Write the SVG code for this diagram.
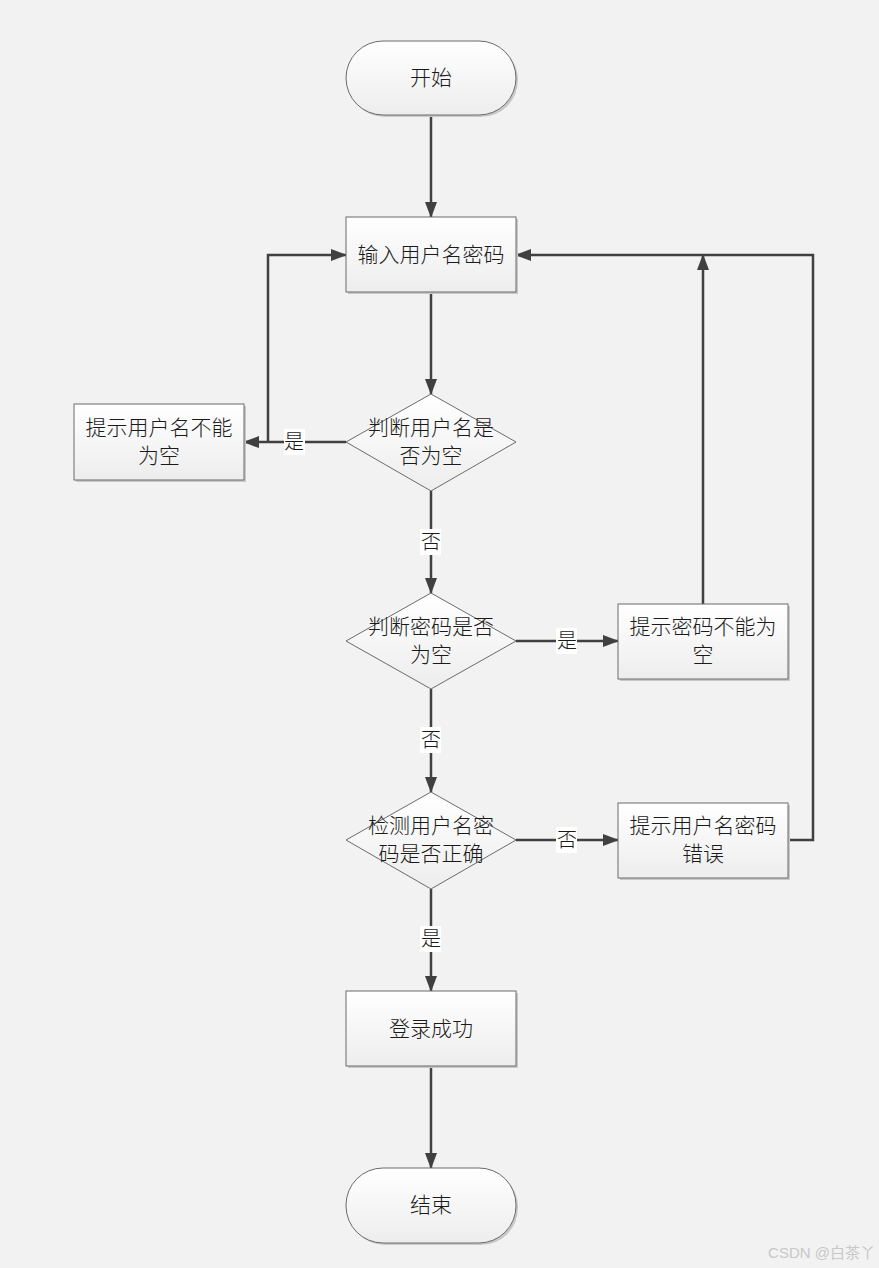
<svg xmlns="http://www.w3.org/2000/svg" width="879" height="1268" viewBox="0 0 879 1268">
<defs>
<linearGradient id="g" x1="0" y1="0" x2="0" y2="1">
<stop offset="0" stop-color="#ffffff"/>
<stop offset="1" stop-color="#ededed"/>
</linearGradient>
<marker id="ah" viewBox="0 0 16 12" refX="15" refY="6" markerWidth="16" markerHeight="12" markerUnits="userSpaceOnUse" orient="auto">
<path d="M0,0 L16,6 L0,12 Z" fill="#404040"/>
</marker>
</defs>
<style>
.n{fill:url(#g);stroke:#6b6b6b;stroke-width:1}
.sh{fill:#c8c8c8}
.t{font-family:"Noto Sans CJK SC","Noto Sans CJK JP",sans-serif;font-size:21px;font-weight:300;fill:#1a1a1a;text-anchor:middle}
.c{fill:none;stroke:#404040;stroke-width:2.5}
.lb{fill:#ffffff}
.lt{font-family:"Noto Sans CJK SC",sans-serif;font-size:20px;font-weight:300;fill:#1a1a1a;text-anchor:middle}
</style>
<rect width="879" height="1268" fill="#f2f2f2"/>

<g id="connectors">
<path class="c" d="M431,115 V217" marker-end="url(#ah)"/>
<path class="c" d="M431,292 V394" marker-end="url(#ah)"/>
<path class="c" d="M346,442 H244" marker-end="url(#ah)"/>
<path class="c" d="M268,442 V255 H346" marker-end="url(#ah)"/>
<path class="c" d="M431,491 V593" marker-end="url(#ah)"/>
<path class="c" d="M516,641 H618" marker-end="url(#ah)"/>
<path class="c" d="M703,604 V255" marker-end="url(#ah)"/>
<path class="c" d="M431,689 V792" marker-end="url(#ah)"/>
<path class="c" d="M516,840 H618" marker-end="url(#ah)"/>
<path class="c" d="M788,840 H813 V255 H516" marker-end="url(#ah)"/>
<path class="c" d="M431,889 V991" marker-end="url(#ah)"/>
<path class="c" d="M431,1066 V1168" marker-end="url(#ah)"/>
<rect class="lb" x="284" y="429" width="21" height="26"/>
<text class="lt" x="294" y="449">是</text>
<rect class="lb" x="420" y="529" width="21" height="26"/>
<text class="lt" x="431" y="549">否</text>
<rect class="lb" x="556" y="628" width="21" height="26"/>
<text class="lt" x="567" y="648">是</text>
<rect class="lb" x="420" y="727" width="21" height="26"/>
<text class="lt" x="431" y="747">否</text>
<rect class="lb" x="556" y="827" width="21" height="26"/>
<text class="lt" x="567" y="847">否</text>
<rect class="lb" x="420" y="926" width="21" height="26"/>
<text class="lt" x="431" y="946">是</text>
</g>

<g id="start">
<rect class="sh" x="348" y="43" width="170" height="74" rx="37"/>
<rect class="n" x="346" y="41" width="170" height="74" rx="37"/>
<text class="t" x="431" y="85">开始</text>
</g>

<g id="input">
<rect class="sh" x="348" y="219" width="170" height="75"/>
<rect class="n" x="346" y="217" width="170" height="75"/>
<text class="t" x="431" y="262">输入用户名密码</text>
</g>

<g id="check-user">
<polygon class="n" points="431,394 516,442 431,491 346,442"/>
<text class="t" x="431" y="435">判断用户名是</text>
<text class="t" x="431" y="463">否为空</text>
</g>

<g id="user-empty">
<rect class="sh" x="76" y="406" width="170" height="76"/>
<rect class="n" x="74" y="404" width="170" height="76"/>
<text class="t" x="159" y="435">提示用户名不能</text>
<text class="t" x="159" y="463">为空</text>
</g>

<g id="check-pwd">
<polygon class="n" points="431,593 516,641 431,689 346,641"/>
<text class="t" x="431" y="634">判断密码是否</text>
<text class="t" x="431" y="662">为空</text>
</g>

<g id="pwd-empty">
<rect class="sh" x="620" y="606" width="170" height="75"/>
<rect class="n" x="618" y="604" width="170" height="75"/>
<text class="t" x="703" y="634">提示密码不能为</text>
<text class="t" x="703" y="662">空</text>
</g>

<g id="check-correct">
<polygon class="n" points="431,792 516,840 431,889 346,840"/>
<text class="t" x="431" y="833">检测用户名密</text>
<text class="t" x="431" y="861">码是否正确</text>
</g>

<g id="wrong">
<rect class="sh" x="620" y="805" width="170" height="75"/>
<rect class="n" x="618" y="803" width="170" height="75"/>
<text class="t" x="703" y="833">提示用户名密码</text>
<text class="t" x="703" y="861">错误</text>
</g>

<g id="success">
<rect class="sh" x="348" y="993" width="170" height="75"/>
<rect class="n" x="346" y="991" width="170" height="75"/>
<text class="t" x="431" y="1036">登录成功</text>
</g>

<g id="end">
<rect class="sh" x="348" y="1170" width="170" height="75" rx="37"/>
<rect class="n" x="346" y="1168" width="170" height="75" rx="37"/>
<text class="t" x="431" y="1212">结束</text>
</g>

<text x="875" y="1258" font-family="'Liberation Sans','Noto Sans CJK SC',sans-serif" font-size="15" fill="#c8c8c8" text-anchor="end">CSDN @白茶丫</text>
</svg>
